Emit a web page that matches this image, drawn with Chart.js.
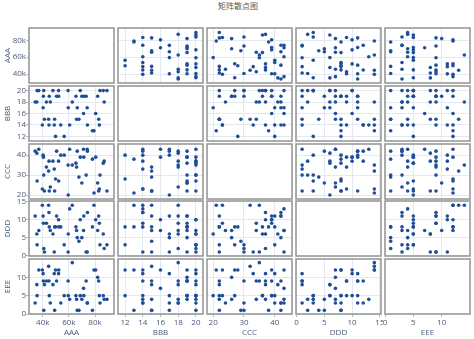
<!DOCTYPE html>
<html><head><meta charset="utf-8">
<script src="https://cdn.jsdelivr.net/npm/chart.js@4"></script>
<style>
html,body{margin:0;padding:0;background:#fff;}
#wrap{position:relative;width:474px;height:339px;overflow:hidden;background:#fff;}
#title{position:absolute;left:0;width:476px;top:0;text-align:center;font-family:"Noto Sans CJK SC";font-size:8px;color:#555;line-height:12px;}
canvas{position:absolute;}
</style></head><body>
<div id="wrap"><div id="title">矩阵散点图</div></div>
<script>
// ---- data ----
const dims = ['AAA', 'BBB', 'CCC', 'DDD', 'EEE'];
const aaa = [34200,35500,35700,37000,39700,40300,40500,40800,41300,42800,44500,44800,45000,45800,47800,48800,49100,49800,50600,52100,52200,53800,56400,59400,59500,60600,62600,65400,65900,66400,67700,68700,69900,71200,71400,73200,74000,74200,78000,79200,80500,82000,82800,83300,83800,86300,87000,89100];
const bbb = [18,18,20,20,14,17,19,20,15,18,15,14,19,18,20,14,15,12,19,20,19,14,12,20,17,14,18,19,15,17,15,20,19,16,19,19,17,14,13,13,16,19,15,14,20,20,18,20];
const ccc = [42,41,27,43,23,40,39,30,22,34,32,37,22,24,37,33,22,28,42,37,27,40,40,35,20,43,35,36,34,42,29,39,26,43,39,30,43,42,38,21,39,26,22,23,30,36,37,22];
const ddd = [11,6,3,7,14,11,9,2,1,9,14,12,8,7,6,1,8,8,11,10,8,8,3,1,6,13,14,8,7,5,4,10,5,7,11,1,1,12,8,14,10,7,11,9,3,6,2,3];
const eee = [3,8,5,12,12,11,9,1,8,9,13,9,5,3,8,11,1,12,9,11,12,3,5,9,5,4,14,5,4,1,1,5,4,7,5,9,3,3,1,12,12,10,9,5,3,5,4,4];
const aaaTicks = [40000, 60000, 80000];
const bbbTicks = [12, 14, 16, 18, 20];
const cccTicks = [20, 30, 40];
const dddTicks = [0, 5, 10, 15];
const eeeTicks = [0, 5, 10];

// ---- layout / style ----
const values = [aaa, bbb, ccc, ddd, eee];
const tickSets = [aaaTicks, bbbTicks, cccTicks, dddTicks, eeeTicks];
const ranges = [[29500, 94500], [11.2, 20.8], [18, 45.6], [-0.1, 15.2], [0, 15]];
const panelLeft = [29, 118, 207, 296, 385];
const panelTop = [28, 86, 144, 201, 259];
const W = 85, H = 55, M = 2, LW = 29, BH = 25;
const tickColor = '#4a5a78';
const gridColor = '#e4e9f1';
const dotColor = '#1f4e96';
const fmt = (d) => d === 0 ? (v) => (v / 1000) + 'k' : (v) => String(v);

const borderPlugin = {
  id: 'panelBorder',
  afterDraw(ch) {
    const a = ch.chartArea, ctx = ch.ctx;
    ctx.save();
    ctx.strokeStyle = '#999999';
    ctx.lineWidth = 1.6;
    ctx.strokeRect(a.left, a.top, a.right - a.left, a.bottom - a.top);
    ctx.restore();
  }
};

const wrap = document.getElementById('wrap');
for (let r = 0; r < 5; r++) {
  for (let c = 0; c < 5; c++) {
    const diag = r === c;
    const left = panelLeft[c] - (c === 0 ? LW : M);
    const top = panelTop[r] - M;
    const cw = W + (c === 0 ? LW : M) + M;
    const chh = H + M + (r === 4 ? BH : M);
    const cv = document.createElement('canvas');
    cv.width = cw; cv.height = chh;
    cv.style.left = left + 'px'; cv.style.top = top + 'px';
    cv.style.width = cw + 'px'; cv.style.height = chh + 'px';
    wrap.appendChild(cv);
    const pts = diag ? [] : values[c].map((v, i) => ({ x: v, y: values[r][i] }));
    const xTicks = tickSets[c], yTicks = tickSets[r];
    new Chart(cv, {
      type: 'scatter',
      data: { datasets: [{ data: pts, pointRadius: 1.8, pointHoverRadius: 1.8, pointBackgroundColor: dotColor, pointBorderWidth: 0 }] },
      options: {
        responsive: false, animation: false, events: [], devicePixelRatio: 1,
        layout: { padding: { left: c === 0 ? 0 : M, right: M, top: M, bottom: r === 4 ? 0 : M } },
        plugins: { legend: { display: false }, tooltip: { enabled: false }, title: { display: false } },
        scales: {
          x: {
            type: 'linear', position: 'bottom', min: ranges[c][0], max: ranges[c][1],
            border: { display: false },
            grid: { color: diag ? 'rgba(0,0,0,0)' : gridColor, drawTicks: r === 4, tickLength: 3, tickColor: '#bbb' },
            ticks: { display: r === 4, color: tickColor, font: { family: 'Open Sans', size: 8 }, padding: 1, maxRotation: 0, autoSkip: false, callback: fmt(c) },
            title: { display: r === 4, text: dims[c], color: tickColor, font: { family: 'Open Sans', size: 8 }, padding: { top: 0, bottom: 1.5 } },
            afterBuildTicks: (s) => { s.ticks = xTicks.map(v => ({ value: v })); },
            afterFit: (s) => { s.height = r === 4 ? BH : 0; s.paddingLeft = 0; s.paddingRight = 0; s.paddingTop = 0; s.paddingBottom = 0; }
          },
          y: {
            type: 'linear', position: 'left', min: ranges[r][0], max: ranges[r][1],
            border: { display: false },
            grid: { color: diag ? 'rgba(0,0,0,0)' : gridColor, drawTicks: c === 0, tickLength: 3, tickColor: '#bbb' },
            ticks: { display: c === 0, color: tickColor, font: { family: 'Open Sans', size: 8 }, padding: 0, autoSkip: false, callback: fmt(r) },
            title: { display: c === 0, text: dims[r], color: tickColor, font: { family: 'Open Sans', size: 8 }, padding: { top: 3, bottom: 0 } },
            afterBuildTicks: (s) => { s.ticks = yTicks.map(v => ({ value: v })); },
            afterFit: (s) => { s.width = c === 0 ? LW : 0; s.paddingLeft = 0; s.paddingRight = 0; s.paddingTop = 0; s.paddingBottom = 0; }
          }
        }
      },
      plugins: [borderPlugin]
    });
  }
}
</script>
</body></html>
